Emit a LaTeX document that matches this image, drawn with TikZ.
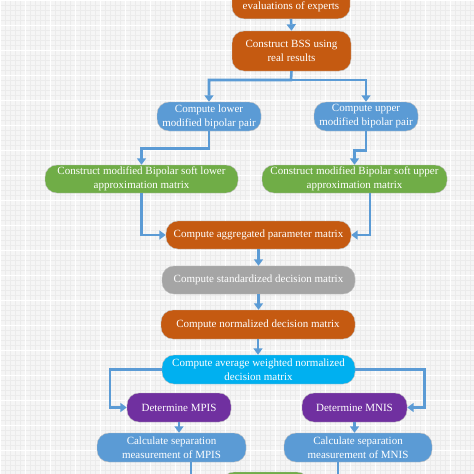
\documentclass[tikz,border=0pt]{standalone}
\usepackage{fontspec}
\setmainfont{Liberation Serif}
\usetikzlibrary{arrows.meta}
\definecolor{bsorange}{HTML}{C55A11}
\definecolor{bsblue}{HTML}{5B9BD5}
\definecolor{bsgreen}{HTML}{70AD47}
\definecolor{bsgrey}{HTML}{A5A5A5}
\definecolor{bscyan}{HTML}{00B0F0}
\definecolor{bspurple}{HTML}{7030A0}
\definecolor{bgpaper}{HTML}{F5F5F5}
\definecolor{bgline}{HTML}{EBEBEB}
\tikzset{
	flowbox/.style={rounded corners=12pt, draw=white!75!black, line width=0.4pt,
		text=white, align=center, inner sep=1pt,
		font=\fontsize{11}{14}\selectfont},
	orangebox/.style={flowbox, fill=bsorange},
	bluebox/.style={flowbox, fill=bsblue},
	greenbox/.style={flowbox, fill=bsgreen},
	greybox/.style={flowbox, fill=bsgrey},
	cyanbox/.style={flowbox, fill=bscyan},
	purplebox/.style={flowbox, fill=bspurple},
	flowline/.style={draw=bsblue, line width=2.6pt,
		-{Triangle[width=9pt,length=6.5pt]}},
	gridline/.style={draw=bgline, line width=0.3pt}
}
\begin{document}
\begin{tikzpicture}[x=1pt, y=-1pt]
	\useasboundingbox (0,0) rectangle (474,474);
	% Hintergrund
	\fill[bgpaper] (0,0) rectangle (474,474);
	\foreach \g in {0,5,...,470}
		\draw[gridline] (\g,0) -- (\g,474);
	\foreach \g in {0,5,...,470}
		\draw[gridline] (0,\g) -- (474,\g);
	\foreach \g in {0,25,...,450}
		\draw[white, line width=0.8pt] (\g,0) -- (\g,474);
	\foreach \g in {0,25,...,450}
		\draw[white, line width=0.8pt] (0,\g) -- (474,\g);

	% Knoten
	\node[orangebox, anchor=south, minimum width=118pt, text height=30pt,
		inner ysep=7pt] (eval) at (291,19) {evaluations of experts};
	\node[orangebox, minimum width=119pt, minimum height=40pt] (bss)
		at (291.5,51) {Construct BSS using\\real results};
	\node[bluebox, minimum width=104pt, minimum height=29pt] (lowpair)
		at (209,116.5) {Compute lower\\modified bipolar pair};
	\node[bluebox, minimum width=104pt, minimum height=29pt] (uppair)
		at (366,116.5) {Compute upper\\modified bipolar pair};
	\node[greenbox, minimum width=193pt, minimum height=28pt] (lowmat)
		at (141.5,179) {Construct modified Bipolar soft lower\\approximation matrix};
	\node[greenbox, minimum width=185pt, minimum height=28pt] (upmat)
		at (354.5,179) {Construct modified Bipolar soft upper\\approximation matrix};
	\node[orangebox, minimum width=185pt, minimum height=28pt] (agg)
		at (258.5,235) {Compute aggregated parameter matrix};
	\node[greybox, minimum width=193pt, minimum height=28pt] (std)
		at (258.5,280) {Compute standardized decision matrix};
	\node[orangebox, minimum width=194pt, minimum height=29pt] (norm)
		at (258,324.5) {Compute normalized decision matrix};
	\node[cyanbox, minimum width=193pt, minimum height=29pt] (avg)
		at (258.5,369.5) {Compute average weighted normalized\\decision matrix};
	\node[purplebox, minimum width=104pt, minimum height=29pt] (mpis)
		at (179,407.5) {Determine MPIS};
	\node[purplebox, minimum width=105pt, minimum height=29pt] (mnis)
		at (354.5,407.5) {Determine MNIS};
	\node[bluebox, minimum width=149pt, minimum height=29pt] (sepp)
		at (171.5,447.5) {Calculate separation\\measurement of MPIS};
	\node[bluebox, minimum width=148pt, minimum height=29pt] (sepn)
		at (358,447.5) {Calculate separation\\measurement of MNIS};
	\node[greenbox, minimum width=87pt, minimum height=28pt] (final)
		at (265.5,486) {};

	% Pfeile
	\coordinate (split) at (291,80);
	\draw[flowline] (eval.south) -- (bss.north);
	\draw[flowline] (bss.south) -- (split) -| (lowpair.north);
	\draw[flowline] (split) -| (uppair.north);
	\draw[flowline] (lowpair.south) -- ++(0,17) -| (lowmat.north);
	\draw[flowline] (uppair.south) -- ++(0,19) -| (upmat.north);
	\draw[flowline] (lowmat.south) |- (agg.west);
	\draw[flowline] ([xshift=15.5pt]upmat.south) |- (agg.east);
	\draw[flowline] (agg.south) -- (agg.south |- std.north);
	\draw[flowline] (std.south) -- (std.south |- norm.north);
	\draw[flowline] (norm.south) -- (norm.south |- avg.north);
	\draw[flowline] (avg.west) -- ++(-52,0) |- (mpis.west);
	\draw[flowline] (avg.east) -- ++(69,0) |- (mnis.east);
	\draw[flowline] (mpis.south) -- (mpis.south |- sepp.north);
	\draw[flowline] (mnis.south) -- (mnis.south |- sepn.north);
	\draw[flowline] ([xshift=19.5pt]sepp.south) |- (final.west);
	\draw[flowline] ([xshift=-20pt]sepn.south) |- (final.east);
\end{tikzpicture}
\end{document}
